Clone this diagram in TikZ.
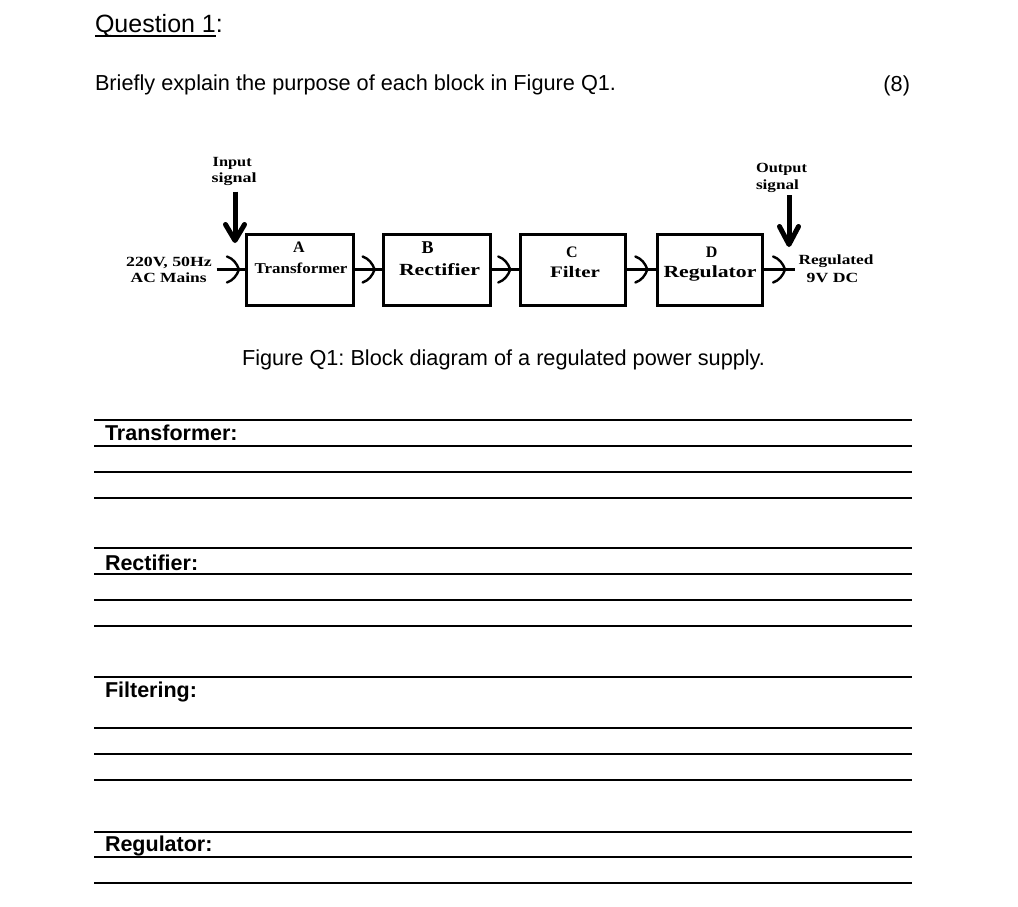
\documentclass[tikz,border=0pt]{standalone}
\usepackage{fontspec}
\usepackage{graphicx}
\setmainfont{Liberation Serif}
\newfontfamily\arialf{Liberation Sans}
\usetikzlibrary{calc}
\newcommand\fitw[2]{\resizebox{#1}{\height}{#2}}
\newcommand\fs[1]{\fontsize{#1}{#1}\selectfont}
\frenchspacing
\begin{document}
\begin{tikzpicture}[x=1pt,y=-1pt,
 txt/.style={inner sep=0pt, outer sep=0pt},
 body/.style={txt, font=\arialf\fs{21.7}},
 lbl/.style={txt, font=\arialf\bfseries\fs{21.5}, anchor=base west},
 dtxt/.style={txt, font=\bfseries\fs{15}, anchor=base},
 stxt/.style={txt, font=\bfseries\fs{14}, anchor=base},
 box/.style={draw, line width=3pt, minimum width=107pt, minimum height=71pt, inner sep=0pt, outer sep=0pt},
 conn/.style={line width=2.5pt},
 chevst/.style={line width=2.4pt, line cap=round},
 rulest/.style={line width=1.3pt},
 sig/.style={line width=5pt},
 sighead/.style={line width=5pt, line join=round, line cap=round},
]
\useasboundingbox (0,0) rectangle (1018,906);

% header
\node[txt, anchor=base west, font=\arialf\fs{25}] (q) at (95,32.3) {Question 1};
\node[txt, anchor=base west, font=\arialf\fs{25}] (qc) at (q.base east) {:};
\draw[line width=1.4pt] ($(q.base west)+(0,3.7)$) -- ($(q.base east)+(0,3.7)$);
\node[body, anchor=base west] (intro) at (95,90.7) {Briefly explain the purpose of each block in Figure Q1.};
\node[body, anchor=base east] (marks) at (910,91) {(8)};

% blocks
\node[box] (A) at (299.5,269.5) {};
\node[box] (B) at (436.5,269.5) {};
\node[box, minimum width=105.3pt] (C) at (573.3,269.5) {};
\node[box, minimum width=105.5pt] (D) at (710.2,269.5) {};

\node[dtxt, font=\bfseries\fs{16}] (Al) at (299,252.3) {A};
\node[dtxt] (At) at (301,273.3) {\fitw{93pt}{Transformer}};
\node[dtxt, font=\bfseries\fs{18}] (Bl) at (427.7,253) {B};
\node[dtxt, font=\bfseries\fs{17}] (Bt) at (439.5,275) {\fitw{81pt}{Rectifier}};
\node[dtxt, font=\bfseries\fs{16}] (Cl) at (572,257.3) {C};
\node[dtxt, font=\bfseries\fs{16}] (Ct) at (575,277.3) {\fitw{50pt}{Filter}};
\node[dtxt, font=\bfseries\fs{16}] (Dl) at (711.7,257.3) {D};
\node[dtxt, font=\bfseries\fs{17}] (Dt) at (710,277.3) {\fitw{93pt}{Regulator}};

% side labels
\node[stxt] (m1) at (169,266.7) {\fitw{85.7pt}{220V, 50Hz}};
\node[stxt] (m2) at (168.7,282.7) {\fitw{76pt}{AC Mains}};
\node[stxt] (o1) at (836,264) {\fitw{75pt}{Regulated}};
\node[stxt] (o2) at (832.5,282.7) {\fitw{51.6pt}{9V DC}};
\node[stxt, anchor=base west] (i1) at (212.7,166.7) {\fitw{39pt}{Input}};
\node[stxt, anchor=base west] (i2) at (211.7,182.3) {\fitw{45pt}{signal}};
\node[stxt, anchor=base west] (u1) at (756,172.7) {\fitw{51pt}{Output}};
\node[stxt, anchor=base west] (u2) at (756,189.3) {\fitw{43pt}{signal}};

% connectors
\coordinate (mainsin) at (216.7,269.5);
\coordinate (dcout) at (795,269.5);
\draw[conn] (mainsin) -- coordinate[pos=.76] (k0) (A.west);
\draw[conn] (A.east) -- coordinate[pos=.72] (k1) (B.west);
\draw[conn] (B.east) -- coordinate[pos=.66] (k2) (C.west);
\draw[conn] (C.east) -- coordinate[pos=.68] (k3) (D.west);
\draw[conn] (D.east) -- coordinate[pos=.69] (k4) (dcout);
\foreach \k in {k0,k1,k2,k3,k4}{
  \draw[chevst] ($(\k)+(-12,-13)$) .. controls ($(\k)+(-6,-11)$) and ($(\k)+(-2,-6)$) .. (\k)
     .. controls ($(\k)+(-2,6)$) and ($(\k)+(-6,11)$) .. ($(\k)+(-12,13)$);
}

% signal arrows
\coordinate (insig) at (235,191.7);
\coordinate (intip) at (235,240.5);
\coordinate (outsig) at (789,195);
\coordinate (outtip) at (789,244.5);
\draw[sig] (insig) -- ($(intip)+(0,-3)$);
\draw[sighead] ($(intip)+(-9.5,-16)$) -- (intip) -- ($(intip)+(9.5,-16)$);
\draw[sig] (outsig) -- ($(outtip)+(0,-3)$);
\draw[sighead] ($(outtip)+(-9.5,-18)$) -- (outtip) -- ($(outtip)+(9.5,-18)$);

% caption
\node[body, anchor=base west] (cap) at (242,365) {Figure Q1: Block diagram of a regulated power supply.};

% answer area
\foreach \y in {420,446,472,498,548,574,600,626,677,728,754,780,832,857,883}{
  \draw[rulest] (94,\y) -- (912,\y);
}
\node[lbl] (lt) at (105,440.7) {Transformer:};
\node[lbl] (lr) at (105,570) {Rectifier:};
\node[lbl] (lf) at (105,697.3) {Filtering:};
\node[lbl] (lg) at (105,851.7) {Regulator:};
\end{tikzpicture}
\end{document}
